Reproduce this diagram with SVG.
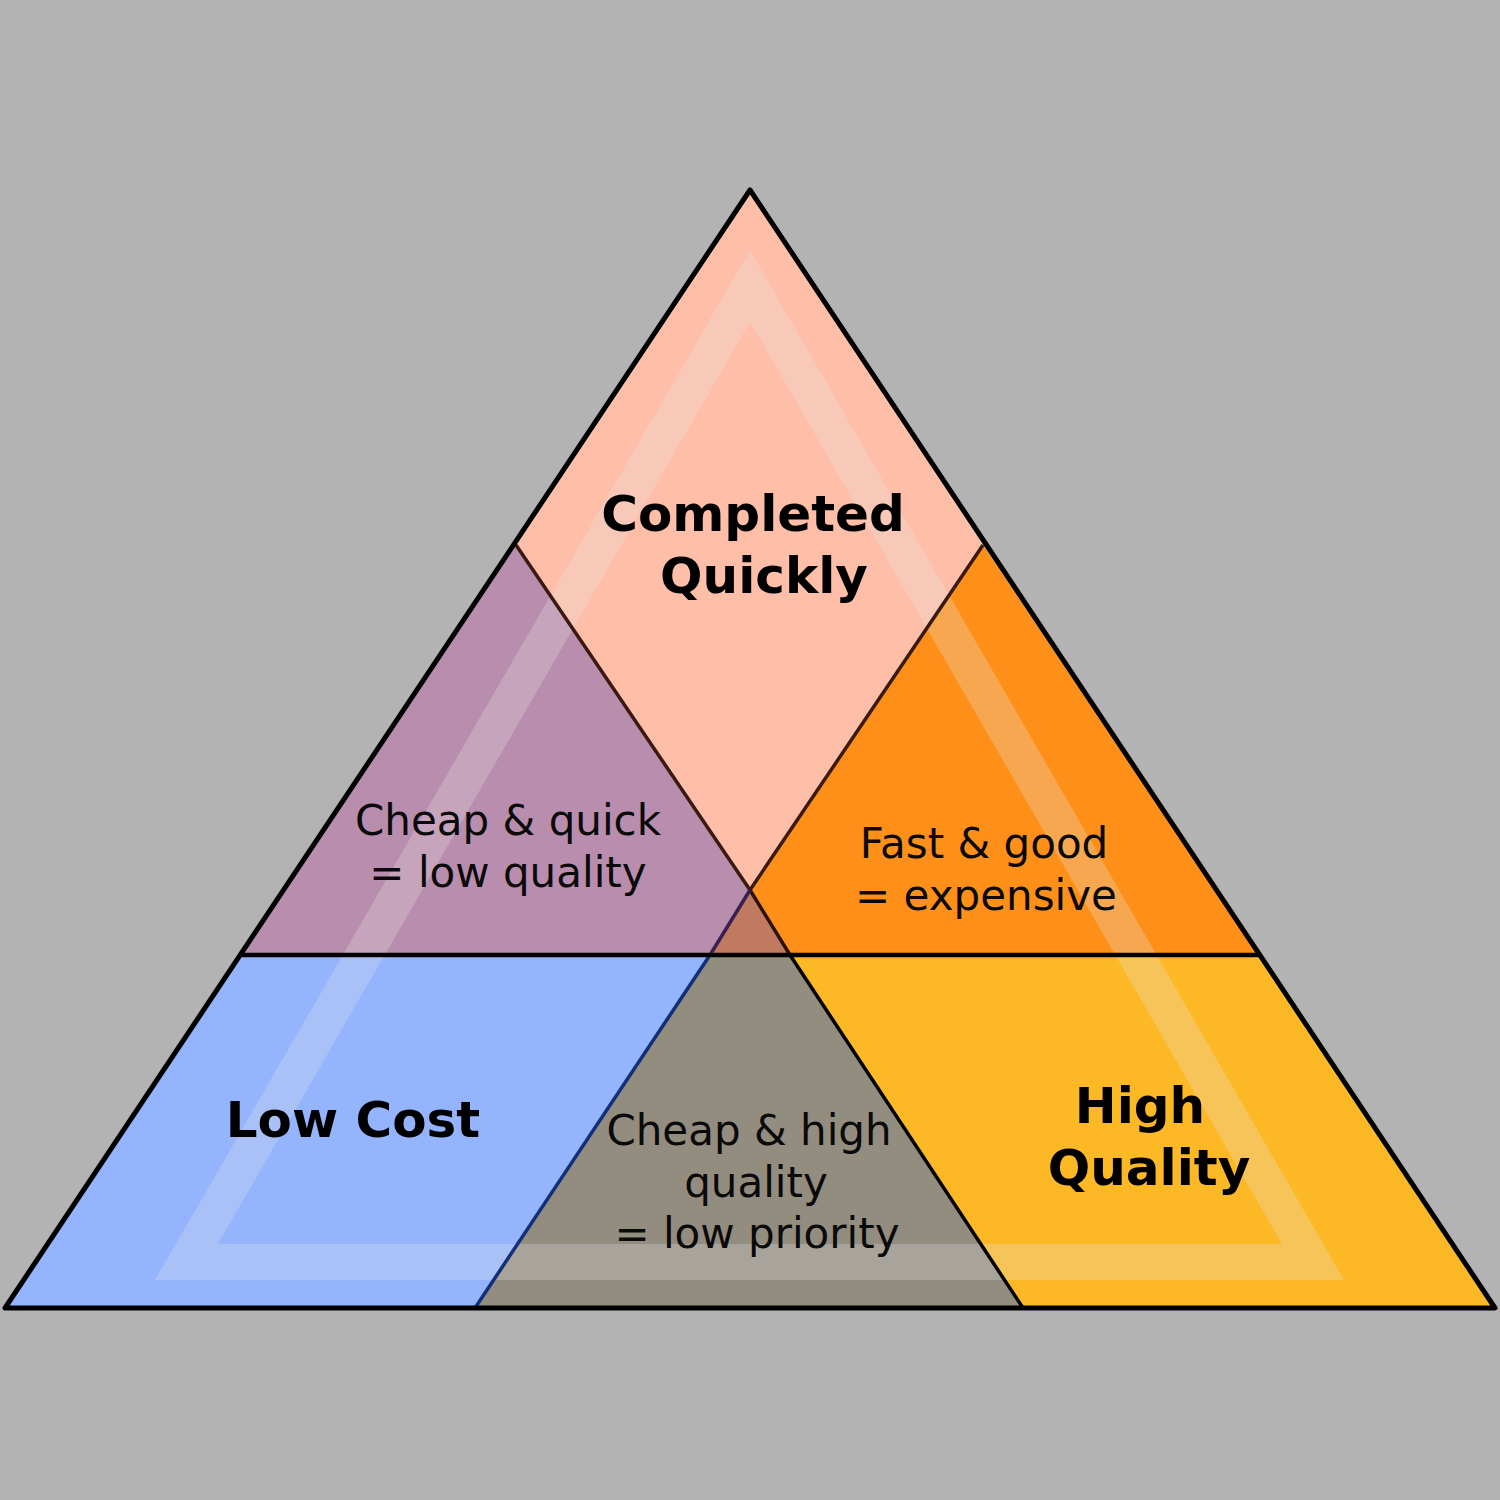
<svg xmlns="http://www.w3.org/2000/svg" width="1500" height="1500" viewBox="0 0 1500 1500">
  <style>
    .bold { font-family: "DejaVu Sans", Verdana, sans-serif; font-weight: bold; font-size: 50px; fill: #000; text-anchor: middle; }
    .reg { font-family: "DejaVu Sans", Verdana, sans-serif; font-size: 42px; fill: #0A0A0A; text-anchor: middle; }
    .edge { fill: none; stroke: #000; stroke-width: 5; stroke-linejoin: round; }
  </style>
  <rect x="0" y="0" width="1500" height="1500" fill="#B3B3B3"/>

  <g id="completed-quickly">
    <polygon points="750,190 983,545 750,890 516,545" fill="#FFBEA8"/>
  </g>
  <g id="cheap-quick">
    <polygon points="516,545 750,890 710,955 242,955" fill="#B98DAD"/>
  </g>
  <g id="fast-good">
    <polygon points="983,545 1258,955 790,955 750,890" fill="#FE9019"/>
  </g>
  <g id="center">
    <polygon points="750,890 790,955 710,955" fill="#C07A60"/>
  </g>
  <g id="low-cost">
    <polygon points="242,955 710,955 475,1308 5,1308" fill="#94B4FE"/>
  </g>
  <g id="cheap-high">
    <polygon points="710,955 790,955 1023,1308 475,1308" fill="#938D80"/>
  </g>
  <g id="high-quality">
    <polygon points="790,955 1258,955 1495,1308 1023,1308" fill="#FDB826"/>
  </g>

  <g id="band">
    <path d="M750,250 L1344,1280 L155,1280 Z M750,322 L218,1244 L1282,1244 Z" fill="#E4E4E4" fill-opacity="0.27" fill-rule="evenodd"/>
  </g>

  <g id="connectors">
    <line x1="516" y1="545" x2="750" y2="890" stroke="#3A1A10" stroke-width="3.5"/>
    <line x1="983" y1="545" x2="750" y2="890" stroke="#3A1A10" stroke-width="3.5"/>
    <line x1="750" y1="890" x2="790" y2="955" stroke="#2A1008" stroke-width="3.5"/>
    <line x1="750" y1="890" x2="710" y2="955" stroke="#3A2050" stroke-width="3.5"/>
    <line x1="710" y1="955" x2="475" y2="1308" stroke="#12307A" stroke-width="3.5"/>
    <line x1="790" y1="955" x2="1023" y2="1308" stroke="#000" stroke-width="3.5"/>
    <line x1="242" y1="955" x2="1258" y2="955" stroke="#000" stroke-width="4.5"/>
    <polygon class="edge" points="750,190 1495,1308 5,1308"/>
  </g>

  <g id="labels">
    <text class="bold" x="753" y="531">Completed</text>
    <text class="bold" x="764" y="593">Quickly</text>
    <text class="reg" x="508" y="835">Cheap &amp; quick</text>
    <text class="reg" x="508" y="887">= low quality</text>
    <text class="reg" x="984" y="858">Fast &amp; good</text>
    <text class="reg" x="986" y="910">= expensive</text>
    <text class="bold" x="353" y="1137">Low Cost</text>
    <text class="reg" x="749" y="1145">Cheap &amp; high</text>
    <text class="reg" x="756" y="1197">quality</text>
    <text class="reg" x="757" y="1248">= low priority</text>
    <text class="bold" x="1140" y="1123">High</text>
    <text class="bold" x="1149" y="1185">Quality</text>
  </g>
</svg>
